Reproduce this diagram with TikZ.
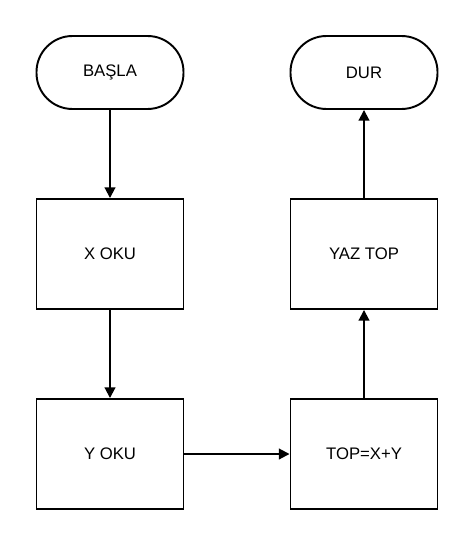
\documentclass[tikz,border=0pt]{standalone}
\usepackage{fontspec}
\setmainfont{Liberation Sans}
\usetikzlibrary{arrows.meta}
\tikzset{
  kutu/.style={rectangle, draw=black, line width=1.1pt, fill=white, minimum width=2.94cm, minimum height=2.2cm, font=\fontsize{9.5}{11}\selectfont},
  uc/.style={rectangle, rounded corners=0.72cm, draw=black, line width=1.1pt, fill=white, minimum width=2.94cm, minimum height=1.46cm, font=\fontsize{9.5}{11}\selectfont},
  ok/.style={line width=1.1pt, -{Triangle[length=6pt,width=6pt]}}
}
\begin{document}
\begin{tikzpicture}
        \useasboundingbox (0,0) rectangle (9.48,-10.92);
        \node[uc] (basla) at(2.2,-1.45){BAŞLA};
        \node[kutu] (x-oku) at(2.2,-5.08){X OKU};
        \node[kutu] (y-oku) at(2.2,-9.08){Y OKU};
        \draw [ok] (basla) -- (x-oku);
        \draw [ok] (x-oku) -- (y-oku);

        \node[kutu] (top) at(7.28,-9.08){TOP=X+Y};
        \draw [ok] (y-oku) -- (top);

        \node[kutu] (yaz-top) at(7.28,-5.08){YAZ TOP};
        \node[uc] (dur) at(7.28,-1.45){DUR};
        \draw [ok] (top) -- (yaz-top);
        \draw [ok] (yaz-top) -- (dur);

      \end{tikzpicture}
\end{document}
